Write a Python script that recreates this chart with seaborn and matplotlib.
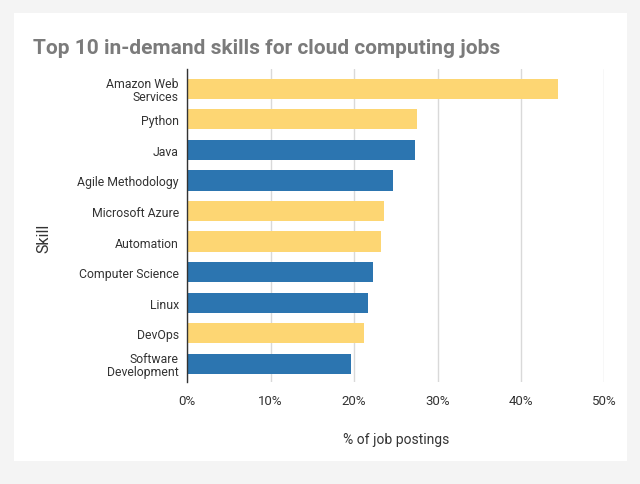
import matplotlib
matplotlib.use("Agg")
import matplotlib.pyplot as plt
import seaborn as sns
import pandas as pd
from matplotlib.patches import Rectangle
from matplotlib.ticker import FuncFormatter

# Data
skills = ['Amazon Web\nServices', 'Python', 'Java', 'Agile Methodology', 'Microsoft Azure',
          'Automation', 'Computer Science', 'Linux', 'DevOps', 'Software\nDevelopment']
pct = [44.5, 27.6, 27.3, 24.7, 23.6, 23.2, 22.3, 21.7, 21.2, 19.6]
group = ['y', 'y', 'b', 'b', 'y', 'y', 'b', 'b', 'y', 'b']
colors = {'y': '#fdd673', 'b': '#2c75b0'}

df = pd.DataFrame({'Skill': skills, 'pct': pct, 'group': group})

sns.set_style('white')
plt.rcParams['font.family'] = ['Roboto', 'DejaVu Sans']

fig = plt.figure(figsize=(6.4, 4.85), dpi=100)
fig.patch.set_facecolor('#f4f4f4')
# white card behind everything
fig.patches.append(Rectangle((14 / 640, 1 - 462 / 485), (627 - 14) / 640, (462 - 14) / 485,
                             transform=fig.transFigure, facecolor='white', edgecolor='none', zorder=-5))

ax = fig.add_axes([187.3 / 640, 1 - 383 / 485, (604.3 - 187.3) / 640, (383 - 70) / 485])
ax.set_facecolor('none')
sns.barplot(data=df, x='pct', y='Skill', hue='group', palette=colors, legend=False,
            width=0.66, saturation=1, linewidth=0, ax=ax, zorder=3)

ax.set_xlim(0, 50)
ax.set_ylim(9.6, -0.65)
ax.set_xticks(range(0, 51, 10))
ax.xaxis.set_major_formatter(FuncFormatter(lambda v, p: f'{int(v)}%'))
ax.grid(axis='x', color='#d9d9d9', linewidth=1, zorder=0)
ax.set_axisbelow(True)
for s in ['top', 'right', 'bottom']:
    ax.spines[s].set_visible(False)
ax.spines['left'].set_color('#333333')
ax.spines['left'].set_linewidth(1)
ax.spines['left'].set_zorder(5)
ax.tick_params(axis='both', length=0, colors='#333333')
ax.tick_params(axis='y', labelsize=8.8, pad=6)
ax.tick_params(axis='x', labelsize=9.5, pad=9)
for lab in ax.get_yticklabels():
    lab.set_linespacing(1.0)

ax.set_xlabel('% of job postings', fontsize=10, color='#333333', labelpad=18)
ax.set_ylabel('')
fig.text(44 / 640, 1 - 238 / 485, 'Skill', rotation=90, fontsize=11.5, color='#333333',
         ha='center', va='center')

fig.text(33 / 640, 1 - 48 / 485, 'Top 10 in-demand skills for cloud computing jobs',
         fontsize=15, fontweight='bold', color='#7b7b7b', ha='left', va='center')

fig.savefig('out.png', dpi=100, facecolor=fig.get_facecolor())
